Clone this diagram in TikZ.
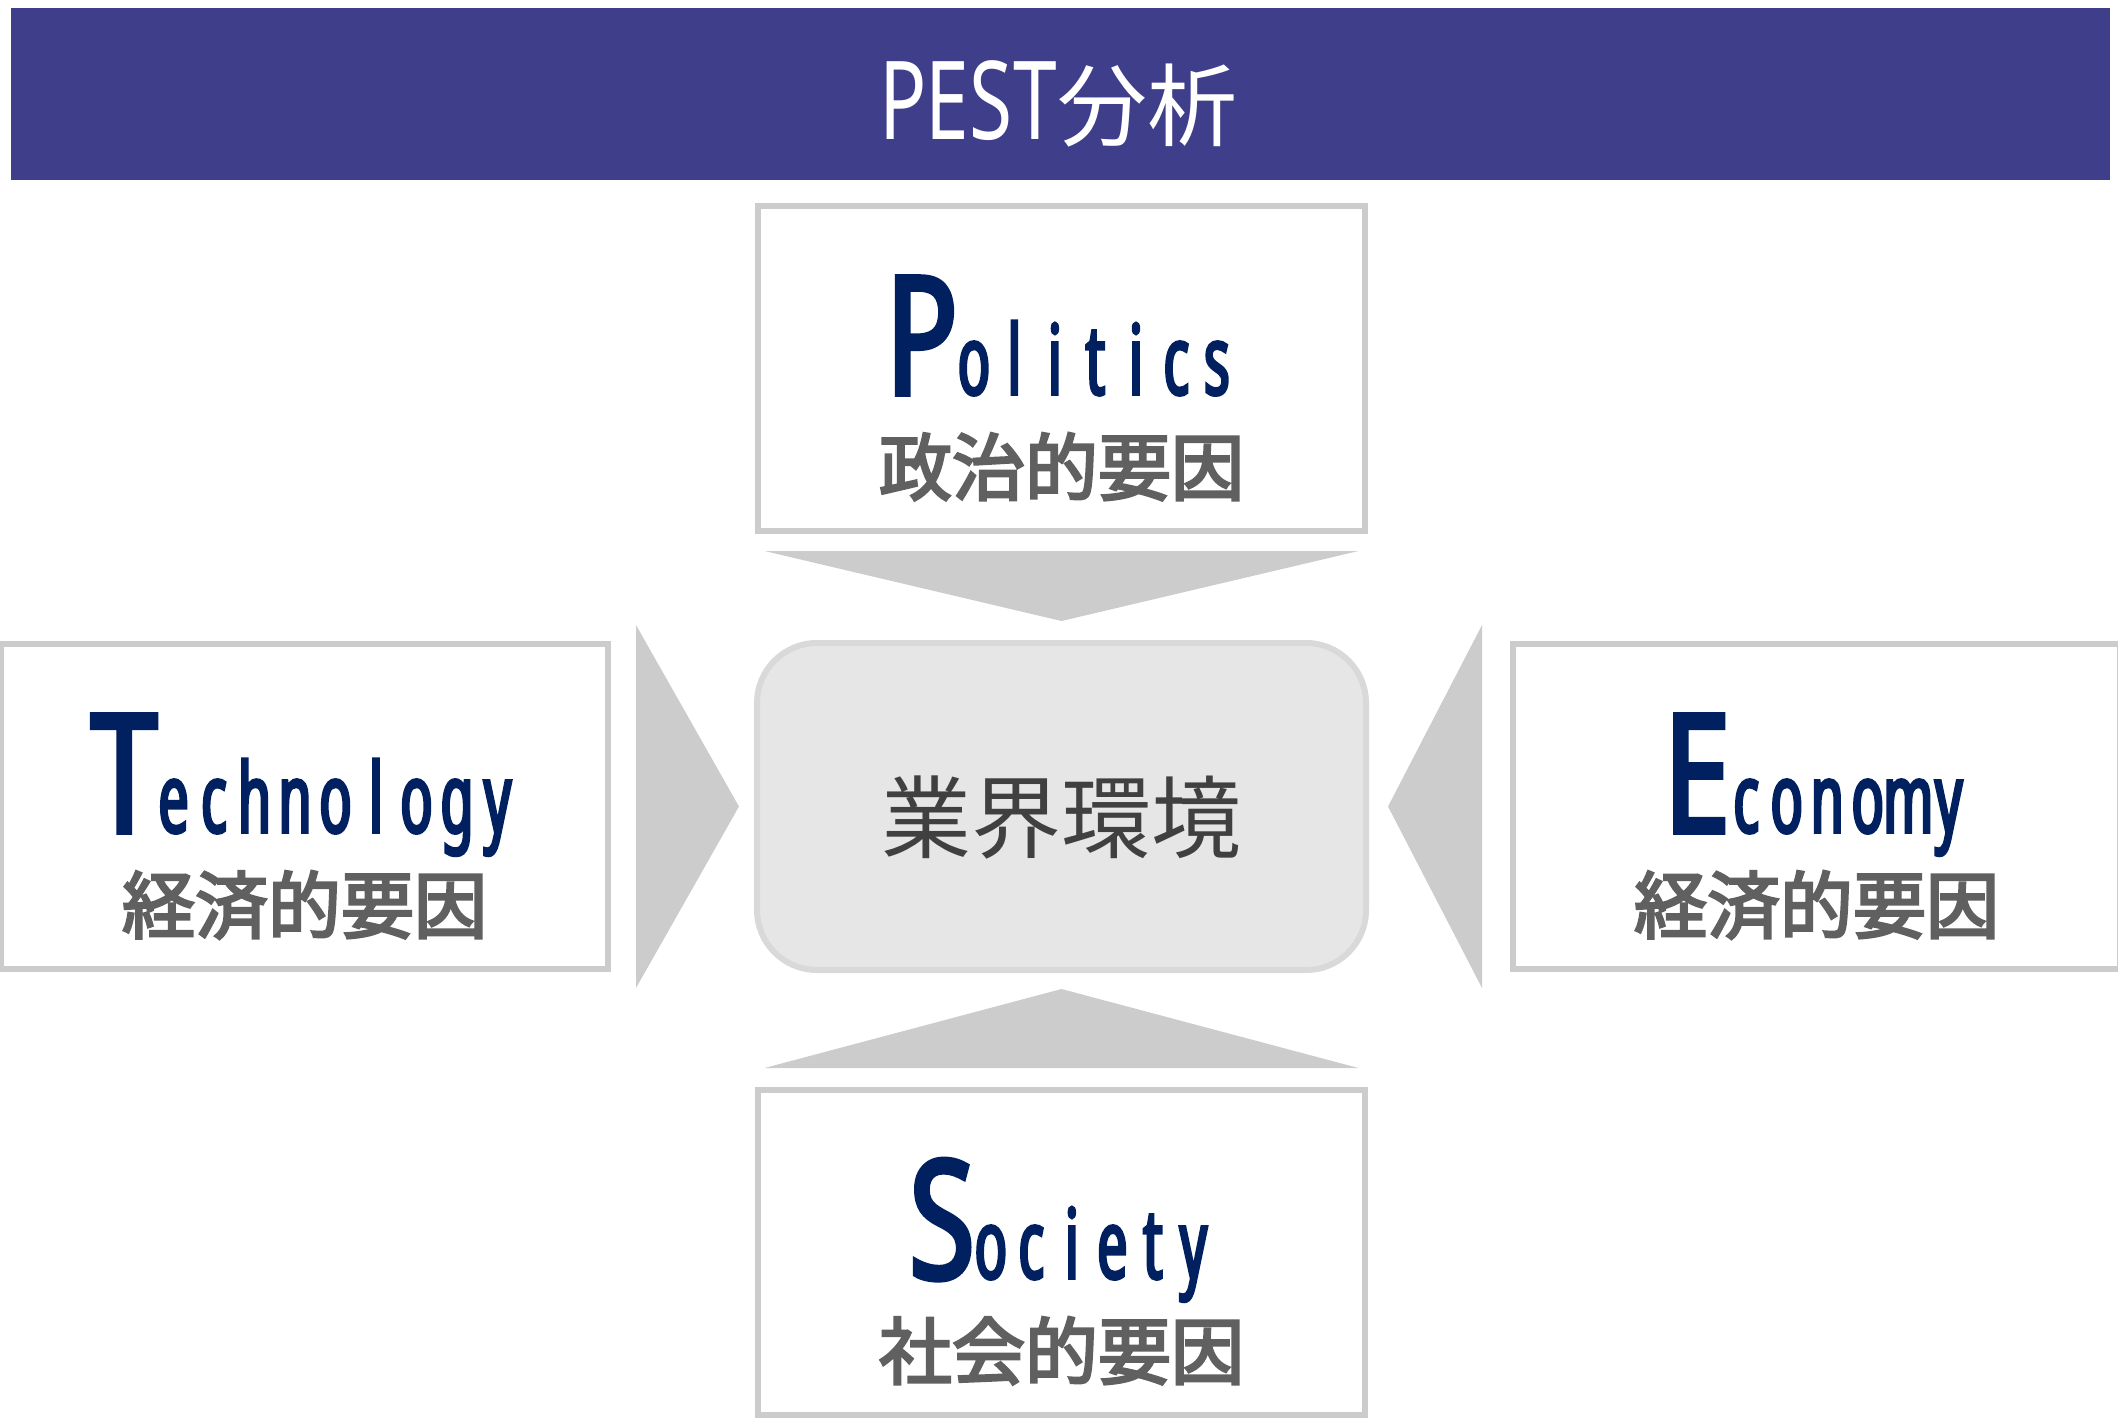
\documentclass[tikz,border=0pt]{standalone}
\usepackage{fontspec}
\usepackage{tikz}
\usetikzlibrary{
    positioning
}
\newfontfamily\jpfont{Noto Sans CJK JP}
\newfontfamily\jpsubfont[FakeBold=3.5]{Noto Sans CJK JP}
\newfontfamily\titlefont[FakeStretch=0.72]{Noto Sans}
\newfontfamily\capfont[FakeStretch=0.72,FakeBold=3]{Noto Sans}
\newfontfamily\lowfont[FakeStretch=0.55,FakeBold=3]{Noto Sans}

\definecolor{banner}{RGB}{63,62,138}
\definecolor{boxgray}{RGB}{204,204,204}
\definecolor{centerfill}{RGB}{230,230,230}
\definecolor{centerline}{RGB}{217,217,217}
\definecolor{navy}{RGB}{0,32,96}
\definecolor{subgray}{RGB}{96,96,96}
\definecolor{centertext}{RGB}{64,64,64}

% letters set in fixed slots
\makeatletter
\newcommand\slots[2]{\@tfor\slotch:=#2\do{\makebox[#1]{\slotch}}}
\makeatother
\newcommand\factorword[2]{{\capfont\fontsize{165}{165}\selectfont #1}\kern-4pt{\lowfont\fontsize{97}{97}\selectfont\slots{40.5pt}{#2}}}

\begin{document}
\begin{tikzpicture}[
    x=1pt, y=-1pt,
    factorbox/.style = {rectangle, draw=boxgray, fill=white, line width=6pt,
                        minimum width=607pt, minimum height=325pt},
    centerbox/.style = {rectangle, rounded corners=60pt, draw=centerline,
                        fill=centerfill, line width=6pt,
                        minimum width=609pt, minimum height=327pt},
    wedge/.style = {fill=boxgray},
    bigword/.style = {anchor=base, text=navy, inner sep=0pt},
    subword/.style = {anchor=base, text=subgray, inner sep=0pt,
                      font=\jpsubfont\fontsize{73}{80}\selectfont}
]
    \useasboundingbox (0,0) rectangle (2118,1425);

    \node[fill=banner, minimum width=2099pt, minimum height=172pt, inner sep=0pt] (banner) at (1060.5,94) {};
    \node[anchor=base, text=white, inner sep=0pt] (title) at (1059,139)
        {{\titlefont\fontsize{109}{109}\selectfont\slots{44pt}{PEST}}{\jpfont\fontsize{90}{90}\selectfont 分析}};

    \node[centerbox] (C) at (1061.5,806.5) {};
    \node[factorbox] (P) [above=106pt of C] {};
    \node[factorbox] (S) [below=114pt of C] {};
    \node[factorbox] (T) [left=143pt of C] {};
    \node[factorbox] (E) [right=141pt of C] {};

    \node[anchor=base, text=centertext, inner sep=0pt, font=\jpfont\fontsize{90}{90}\selectfont] (Ctext) at ([yshift=-45pt]C.center) {業界環境};

    \node[bigword] (Pword) at ([yshift=-26pt]P.center) {\factorword{P}{olitics}};
    \node[subword] (Psub) at ([yshift=-126pt]P.center) {政治的要因};
    \node[bigword] (Tword) at ([yshift=-26pt]T.center) {\factorword{T}{echnology}};
    \node[subword] (Tsub) at ([yshift=-126pt]T.center) {経済的要因};
    \node[bigword] (Eword) at ([yshift=-26pt]E.center) {\factorword{E}{conomy}};
    \node[subword] (Esub) at ([yshift=-126pt]E.center) {経済的要因};
    \node[bigword] (Sword) at ([yshift=-26pt]S.center) {\factorword{S}{ociety}};
    \node[subword] (Ssub) at ([yshift=-126pt]S.center) {社会的要因};

    \fill[wedge] ([xshift=-297pt,yshift=-17pt]P.south) -- ([xshift=297pt,yshift=-17pt]P.south) -- ([yshift=19pt]C.north) -- cycle;
    \fill[wedge] ([xshift=-297pt,yshift=19pt]S.north) -- ([xshift=297pt,yshift=19pt]S.north) -- ([yshift=-16pt]C.south) -- cycle;
    \fill[wedge] ([xshift=25pt,yshift=181.5pt]T.east) -- ([xshift=25pt,yshift=-181.5pt]T.east) -- ([xshift=-15pt]C.west) -- cycle;
    \fill[wedge] ([xshift=-28pt,yshift=181.5pt]E.west) -- ([xshift=-28pt,yshift=-181.5pt]E.west) -- ([xshift=19pt]C.east) -- cycle;

\end{tikzpicture}
\end{document}
